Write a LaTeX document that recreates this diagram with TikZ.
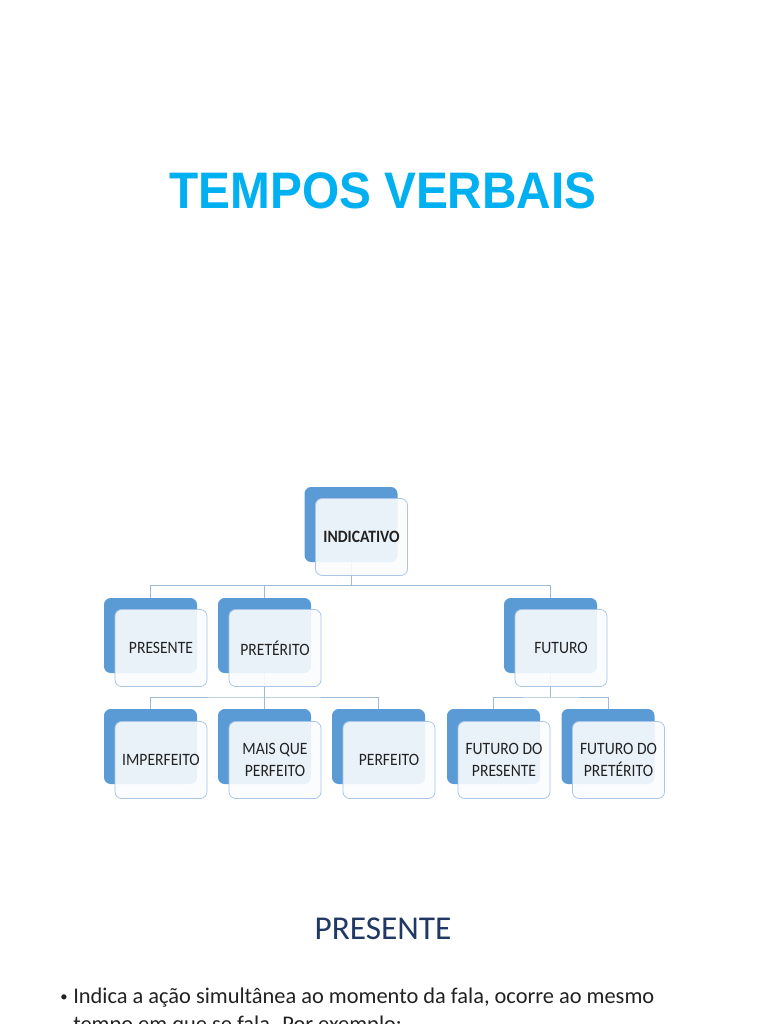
\documentclass[tikz,border=0pt]{standalone}
\usepackage{fontspec}
\setmainfont{Carlito}
\newfontfamily\arialf{Liberation Sans}
\definecolor{titlecyan}{HTML}{00B0F0}
\definecolor{navy}{HTML}{1F3864}
\definecolor{accent}{HTML}{5B9BD5}
\definecolor{frontfill}{HTML}{FAFCFE}
\definecolor{frontline}{HTML}{A9C6E8}
\definecolor{connline}{HTML}{9FBAD8}
\definecolor{bodytext}{HTML}{222222}
\tikzset{
  backbox/.style={fill=accent, draw=none, rounded corners=5pt,
    minimum width=93*0.75pt, minimum height=75*0.75pt, inner sep=0pt},
  frontbox/.style={fill=frontfill, fill opacity=0.9, text opacity=1, draw=frontline,
    line width=0.6pt, rounded corners=5pt, minimum width=92*0.75pt,
    minimum height=77*0.75pt, inner sep=0pt, align=center, text=bodytext,
    font=\fontsize{13}{16.5}\selectfont},
  conn/.style={draw=connline, line width=0.75pt},
  bodyline/.style={text=bodytext, font=\fontsize{16.8}{20}\selectfont, inner sep=0pt, anchor=base west},
}
\newcommand{\sq}[1]{\scalebox{0.9}[1]{#1}}
\begin{document}
\begin{tikzpicture}[x=0.75pt,y=-0.75pt]
\useasboundingbox (0,0) rectangle (768,1024);
\clip (0,0) rectangle (768,1024);
\fill[white] (0,0) rectangle (768,1024);

% title
\node[text=titlecyan, font=\arialf\bfseries\fontsize{38.5}{40}\selectfont, inner sep=0pt] (title) at (383,191) {\scalebox{0.93}[1]{TEMPOS VERBAIS}};

% junction coordinates
\coordinate (j1) at (351,585.5);
\coordinate (j2) at (264.5,697);
\coordinate (j3) at (550.5,697);

% back boxes
\node[backbox] (indB) at (351,524.5) {};
\node[backbox] (presB) at (150.5,635.5) {};
\node[backbox] (pretB) at (264.5,635.5) {};
\node[backbox] (futB) at (550.5,635.5) {};
\node[backbox] (impB) at (150.5,746.5) {};
\node[backbox] (maisB) at (264.5,746.5) {};
\node[backbox] (perfB) at (378.5,746.5) {};
\node[backbox] (fdpB) at (493.5,746.5) {};
\node[backbox] (fdptB) at (608,746.5) {};

% connectors
\draw[conn] (indB.south) -- (j1);
\draw[conn] (presB.north) |- (j1) -| (futB.north);
\draw[conn] (pretB.north) -- (pretB.north |- j1);
\draw[conn] (pretB.south) -- (j2);
\draw[conn] (impB.north) |- (j2) -| (perfB.north);
\draw[conn] (maisB.north) -- (maisB.north |- j2);
\draw[conn] (futB.south) -- (j3);
\draw[conn] (fdpB.north) |- (j3) -| (fdptB.north);

% front boxes
\node[frontbox] (ind) at (361.5,537) {\sq{\bfseries INDICATIVO}};
\node[frontbox] (pres) at (161,648) {\sq{PRESENTE}};
\node[frontbox] (pret) at (275,648) {\sq{PRETÉRITO}};
\node[frontbox] (fut) at (561,648) {\sq{FUTURO}};
\node[frontbox] (imp) at (161,760) {\sq{IMPERFEITO}};
\node[frontbox] (mais) at (275,760) {\sq{MAIS QUE}\\\sq{PERFEITO}};
\node[frontbox] (perf) at (389,760) {\sq{PERFEITO}};
\node[frontbox] (fdp) at (504,760) {\sq{FUTURO DO}\\\sq{PRESENTE}};
\node[frontbox] (fdpt) at (618.5,760) {\sq{FUTURO DO}\\\sq{PRETÉRITO}};

% second slide part
\node[text=navy, font=\fontsize{25}{28}\selectfont, inner sep=0pt] (head) at (383,929) {PRESENTE};
\node[bodyline, font=\fontsize{11}{13}\selectfont] (bul) at (60,1001) {•};
\node[bodyline] (l1) at (73,1003) {Indica a ação simultânea ao momento da fala, ocorre ao mesmo};
\node[bodyline] (l2) at (73,1031) {tempo em que se fala. Por exemplo:};
\end{tikzpicture}
\end{document}
